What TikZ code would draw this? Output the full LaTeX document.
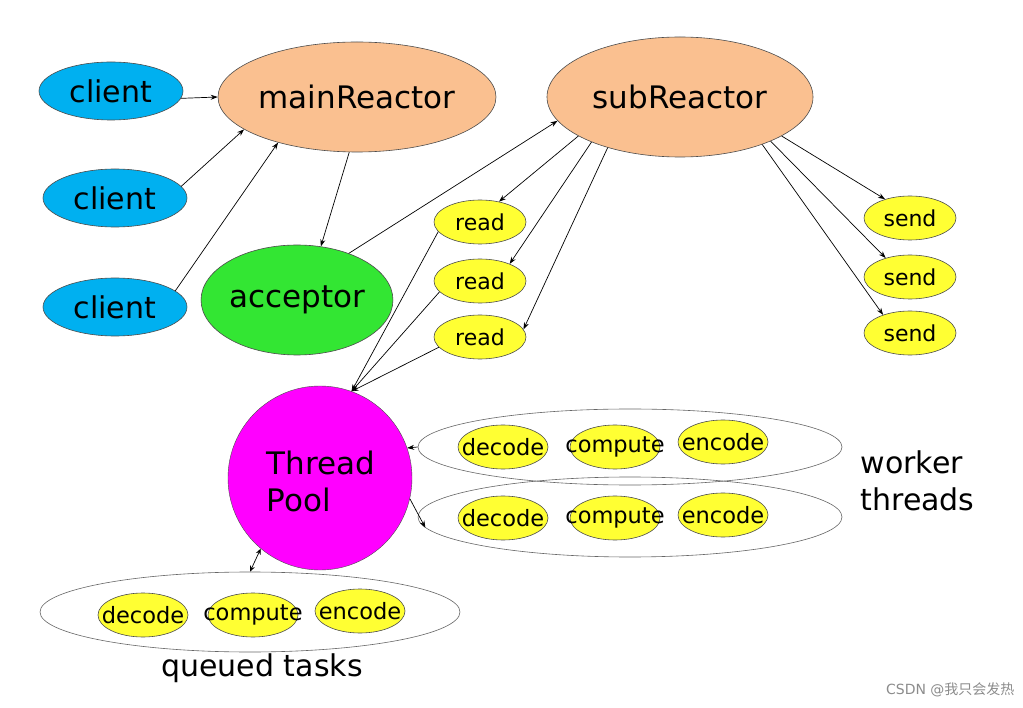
\documentclass[tikz,border=0pt]{standalone}
\usepackage{fontspec}
\setmainfont{DejaVu Sans}
\newfontfamily\cjk{Noto Sans CJK SC}
\usetikzlibrary{shapes.geometric,arrows.meta}
\definecolor{cblue}{RGB}{0,176,240}
\definecolor{cpeach}{RGB}{250,192,144}
\definecolor{cgreen}{RGB}{51,230,51}
\definecolor{cyel}{RGB}{255,255,51}
\definecolor{cmag}{RGB}{255,0,255}
\begin{document}
\begin{tikzpicture}[x=1pt,y=-1pt,
 el/.style={ellipse,draw=black!70,line width=0.6pt,inner sep=0pt},
 cl/.style={el,fill=cblue,minimum width=144pt,minimum height=58pt,font=\fontsize{30}{32}\selectfont},
 re/.style={el,fill=cpeach,minimum width=266pt,minimum height=115pt,font=\fontsize{31}{34}\selectfont},
 sm/.style={el,fill=cyel,minimum width=92pt,minimum height=44pt,font=\fontsize{22}{24}\selectfont},
 tk/.style={el,fill=cyel,minimum width=90pt,minimum height=44pt,label={[font=\fontsize{22.5}{24}\selectfont]center:#1}},
 ou/.style={el,draw=black!60,fill=none},
 ar/.style={-{Stealth[length=7pt,width=5pt]},line width=0.7pt}]
\useasboundingbox (0,0) rectangle (1023,708);
\fill[white] (0,0) rectangle (1023,708);
\node[cl] (c1) at (111,91) {client};
\node[cl] (c2) at (115,198) {client};
\node[cl] (c3) at (115,307) {client};
\node[re,minimum height=110pt] (mr) at (357,97) {mainReactor};
\node[re,minimum height=120pt] (sr) at (680,97) {subReactor};
\node[el,fill=cgreen,minimum width=186pt,minimum height=110pt,font=\fontsize{31}{34}\selectfont] (ac) at (297,300) {acceptor};
\node[sm] (r1) at (480,222) {read};
\node[sm] (r2) at (480,281) {read};
\node[sm] (r3) at (480,337) {read};
\node[sm] (s1) at (910,218) {send};
\node[sm] (s2) at (910,277) {send};
\node[sm] (s3) at (910,333) {send};
\node[circle,draw=black!70,fill=cmag,minimum size=184pt,inner sep=0pt] (tp) at (320,478) {};
\node[anchor=west,align=left,font=\fontsize{31}{37}\selectfont] (tpt) at (263,481) {Thread\\Pool};
\node[ou,minimum width=424pt,minimum height=76pt] (w1) at (630,447) {};
\node[ou,minimum width=424pt,minimum height=80pt] (w2) at (630,517) {};
\node[ou,minimum width=420pt,minimum height=80pt] (q) at (250,612) {};
\node[tk=decode] (d1) at (503,447) {};
\node[tk=compute] (p1) at (615,447) {};
\node[tk=encode] (e1) at (723,442) {};
\node[tk=decode] (d2) at (503,518) {};
\node[tk=compute] (p2) at (615,518) {};
\node[tk=encode] (e2) at (723,515) {};
\node[tk=decode] (d3) at (143,615) {};
\node[tk=compute] (p3) at (253,615) {};
\node[tk=encode] (e3) at (360,611) {};
\node[anchor=west,align=left,font=\fontsize{30}{37}\selectfont] (wt) at (857,481) {worker\\threads};
\node[font=\fontsize{30}{32}\selectfont] (qt) at (262,668) {queued tasks};
\node[anchor=east,text=black!45,font=\fontsize{14}{16}\selectfont] (wm) at (1018,690) {CSDN @{\cjk 我只会发热}};
\draw[ar] (c1.-6) -- (mr.180);
\draw[ar] (c2.10) -- (mr.196);
\draw[ar] (c3.15) -- (mr.210);
\draw[ar] (mr.262) -- (ac.66);
\draw[ar] (ac.42) -- (sr.191);
\draw[ar] (sr.201) -- (r1.47);
\draw[ar] (sr.207) -- (r2.30);
\draw[ar] (sr.215) -- (r3.10);
\draw[ar] (sr.339) -- (s1.143);
\draw[ar] (sr.334) -- (s2.142);
\draw[ar] (sr.330) -- (s3.146);
\draw[ar] (r1.193) -- (tp.70);
\draw[ar] (r2.195) -- (tp.70);
\draw[ar] (r3.194) -- (tp.70);
\draw[ar] (w1.180) -- (tp.19);
\draw[ar] (tp.347) -- (w2.183);
\draw[{Stealth[length=6pt,width=5pt]}-{Stealth[length=6pt,width=5pt]},line width=0.7pt] (tp.230) -- (q.90);
\end{tikzpicture}
\end{document}
